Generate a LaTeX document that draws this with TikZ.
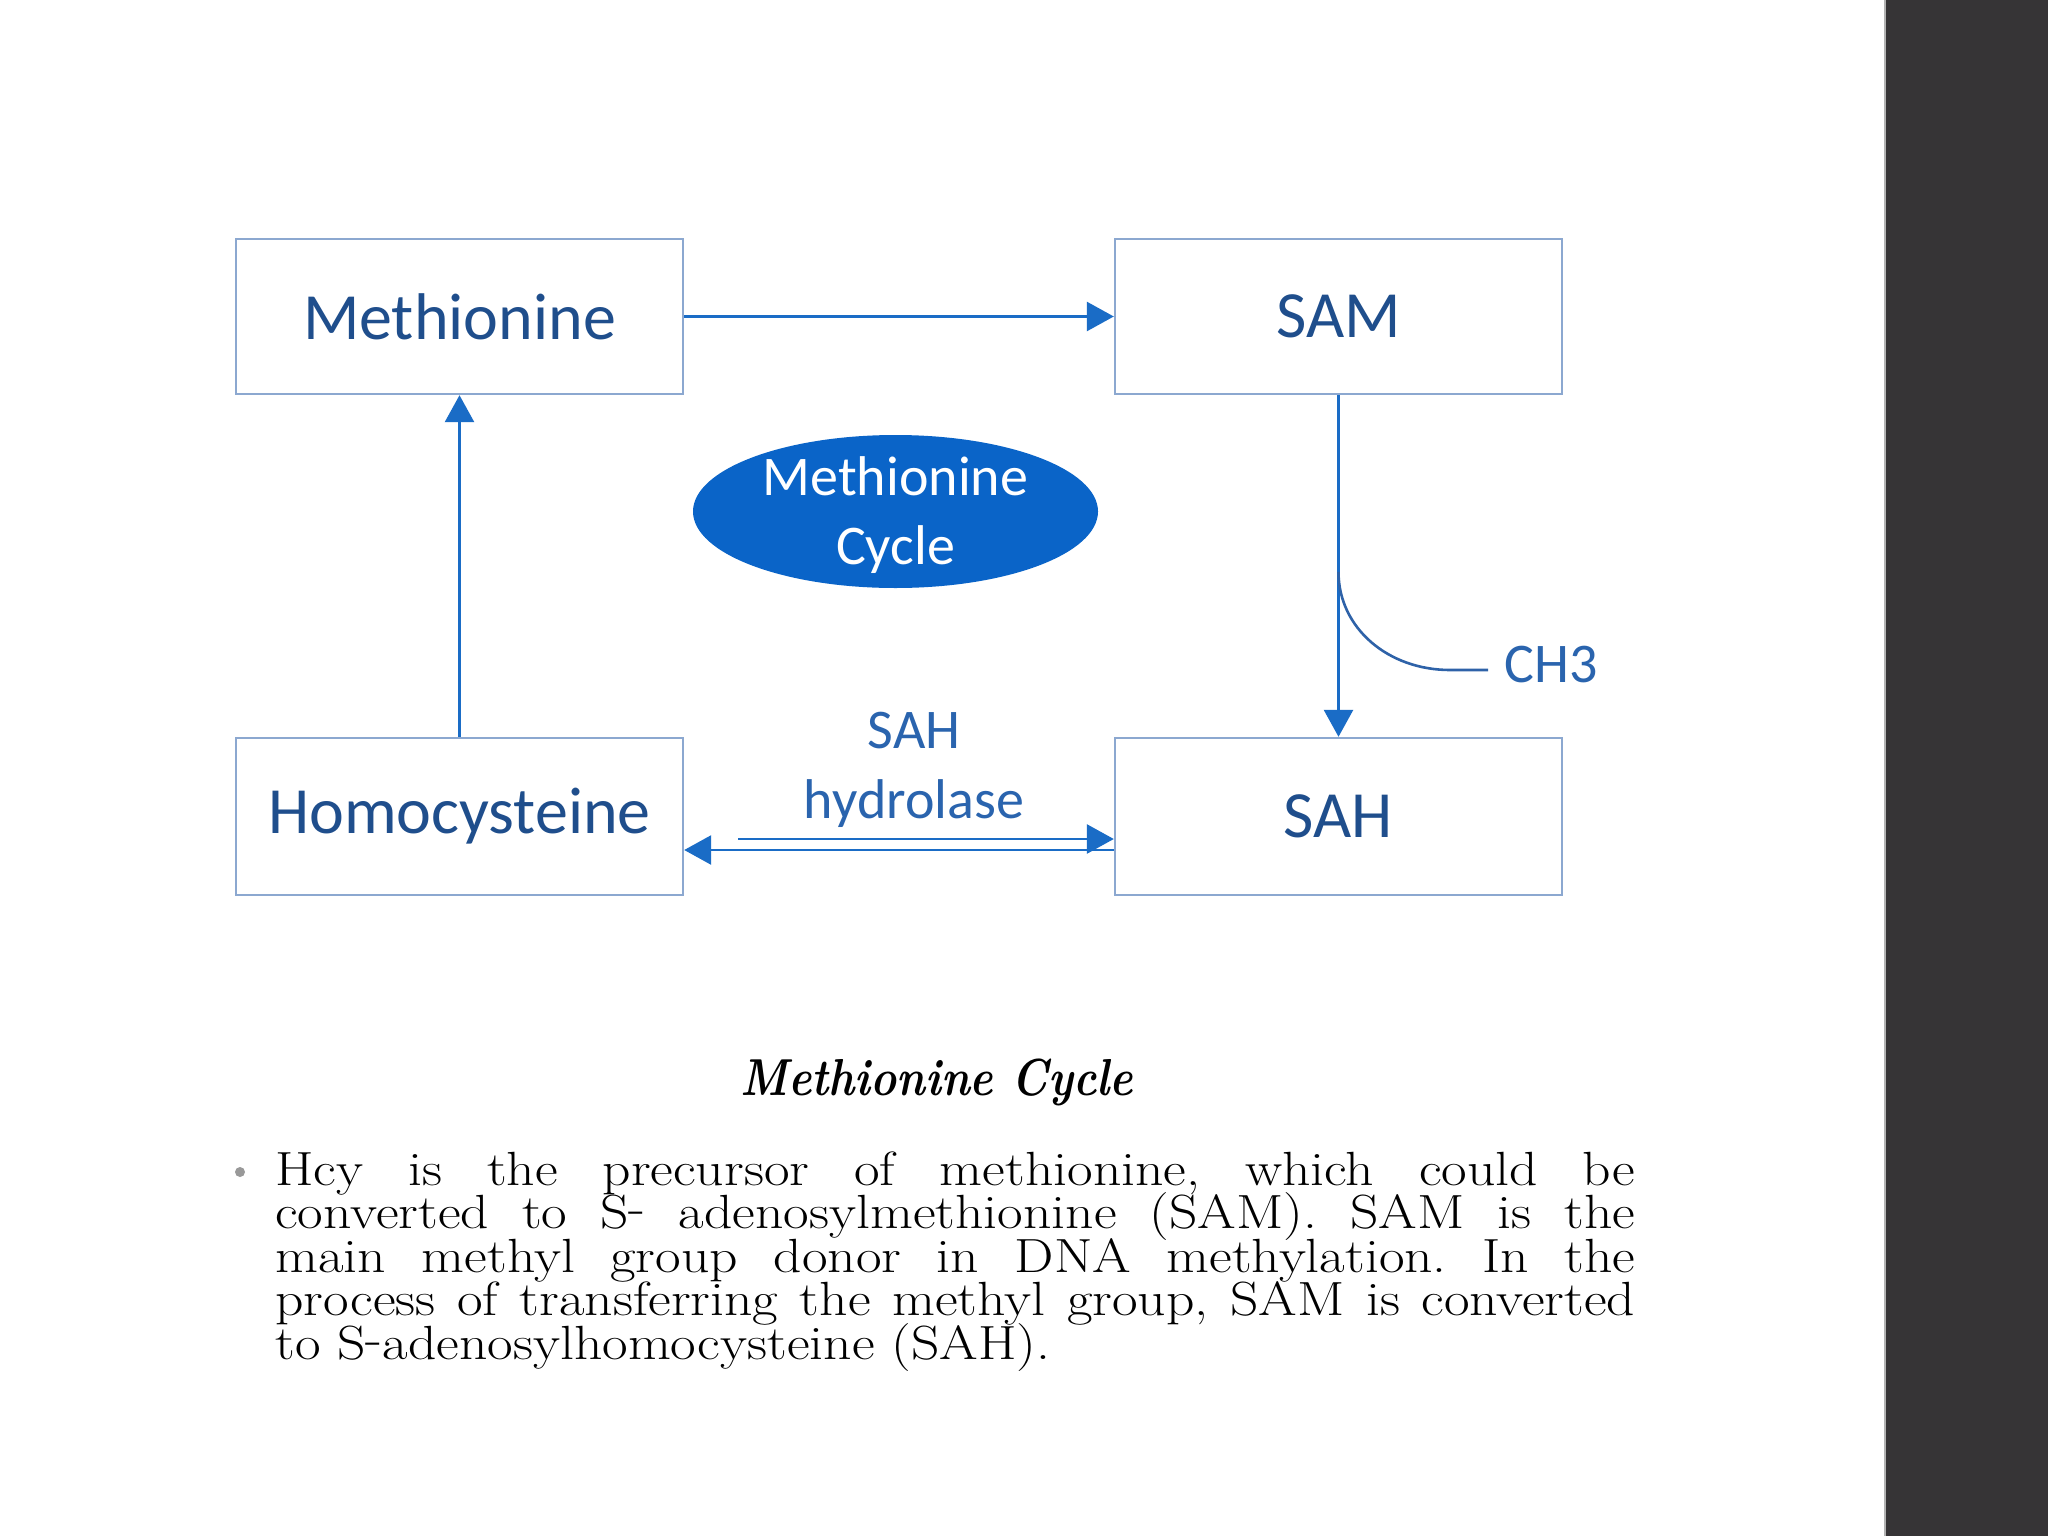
\documentclass[tikz,border=0pt]{standalone}
\usepackage{fontspec}
\newfontfamily\diagfont{Carlito}
\usetikzlibrary{arrows.meta,shapes.geometric}
\definecolor{boxline}{HTML}{8CA8D0}
\definecolor{boxtext}{HTML}{1F4E8C}
\definecolor{arrowblue}{HTML}{1A6CC6}
\definecolor{ellfill}{HTML}{0A64C8}
\definecolor{labeltext}{HTML}{2A64AE}
\definecolor{curveblue}{HTML}{2E62A8}
\definecolor{sidebar}{HTML}{363436}
\newcommand\rhyph{\raisebox{0.1em}{-}}
\begin{document}
\begin{tikzpicture}[x=0.5pt,y=-0.5pt,
  stepbox/.style={draw=boxline, line width=1.2pt, fill=white, minimum width=223.5pt, minimum height=77.5pt, inner sep=0pt, font=\diagfont\fontsize{33}{38}\selectfont, text=boxtext},
  flow/.style={draw=arrowblue, line width=1.4pt},
  tipend/.style={-{Triangle[length=13.5pt,width=14.5pt]}},
  tipstart/.style={{Triangle[length=13.5pt,width=14.5pt]}-},
  lbl/.style={font=\diagfont\fontsize{28}{35}\selectfont, text=labeltext, align=center, inner sep=0pt}]
\useasboundingbox (0,0) rectangle (2048,1536);
\fill[white] (0,0) rectangle (2048,1536);
\fill[sidebar] (1885,0) rectangle (2048,1536);
\draw[gray!60, line width=0.6pt] (1885,0) -- (1885,1536);

\node[stepbox] (met) at (459.5,316.5) {Methionine};
\node[stepbox] (sam) at (1338.5,316.5) {SAM};
\node[stepbox, minimum height=78.5pt] (hcy) at (459.5,816.5) {Homocysteine};
\node[stepbox, minimum height=78.5pt] (sah) at (1338.5,816.5) {SAH};

\node[ellipse, fill=ellfill, minimum width=202.5pt, minimum height=76.5pt, inner sep=0pt] (cyc) at (895.5,511.5) {};
\node[font=\diagfont\fontsize{28}{34.5}\selectfont, text=white, align=center, inner sep=0pt] (cyctext) at ([yshift=-2pt]cyc.center) {Methionine\\Cycle};

\draw[flow, tipend] (met.east) -- (sam.west);
\draw[flow, tipend] (hcy.north) -- (met.south);
\draw[flow, tipend] (sam.south) -- (sah.north);

\coordinate (ch3s) at (1338.5,572);
\coordinate (ch3k) at (1450,670);
\node[lbl, inner xsep=8pt] (ch3) at (1551,665) {CH3};
\coordinate (ch3e) at ([yshift=-2.5pt]ch3.west);
\draw[curveblue, line width=1.3pt] (ch3s) .. controls +(0,56) and +(-62,0) .. (ch3k) -- (ch3e);

\node[lbl] (hydro) at (914,770) {SAH\\hydrolase};
\draw[flow, tipend] ([xshift=27pt,yshift=-11.25pt]hcy.east) -- ([yshift=-11.25pt]sah.west);
\draw[flow, tipstart] ([yshift=-16.75pt]hcy.east) -- ([yshift=-16.75pt]sah.west);

\node[inner sep=0pt, anchor=base] (cap) at (937,1095) {\scalebox{0.85}[1]{\fontsize{26}{30}\selectfont\bfseries\itshape Methionine Cycle}};

\node[circle, fill=gray!80, inner sep=0pt, minimum size=5pt] (bul) at (240,1172) {};
\node[inner sep=0pt, anchor=base west] (body) at (275,1185) {\scalebox{1.159}[1]{\parbox[t]{586.7pt}{\fontsize{24}{21.8}\selectfont\frenchspacing\lineskiplimit=-30pt\tolerance=10000\hyphenpenalty=10000\relax
Hcy is the precursor of methionine, which could be\linebreak
converted to S\rhyph{} adenosylmethionine (SAM). SAM is the\linebreak
main methyl group donor in DNA methylation. In the\linebreak
process of transferring the methyl group, SAM is converted\linebreak
to S\rhyph{}adenosylhomocysteine (SAH).}}};
\end{tikzpicture}
\end{document}
